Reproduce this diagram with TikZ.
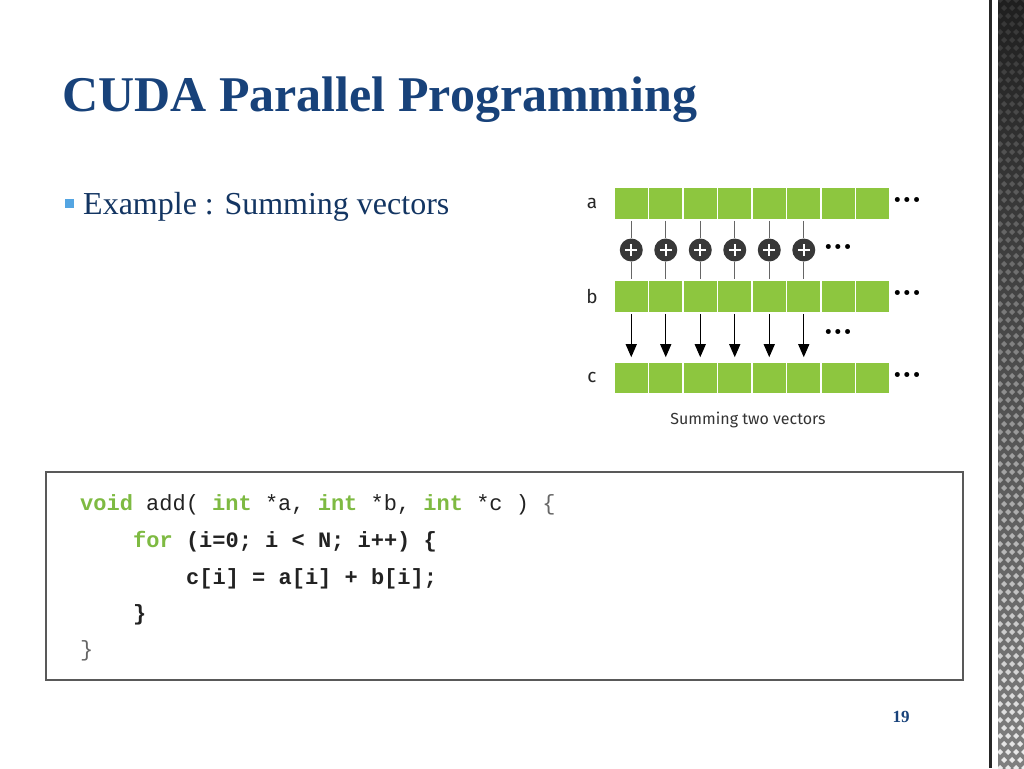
\documentclass[tikz,border=0pt]{standalone}
\usepackage{fontspec}
\setmainfont{Liberation Serif}
\setsansfont{Fira Sans}
\setmonofont{Liberation Mono}
\definecolor{titleblue}{RGB}{24, 66, 122}
\definecolor{bulletblue}{RGB}{84, 165, 226}
\definecolor{cudagreen}{RGB}{141, 198, 63}
\definecolor{keygreen}{RGB}{126, 186, 66}
\definecolor{codegray}{RGB}{34, 34, 34}
\usetikzlibrary{arrows.meta, positioning, calc}
\tikzset{
	cell/.style={rectangle, draw=white, line width=1.6pt, fill=cudagreen, minimum width=34.5pt, minimum height=33pt, inner sep=0pt},
	plusnode/.style={circle, fill=black!78, minimum size=23pt, inner sep=0pt,
		path picture={\draw[white, line width=2.4pt] ([xshift=-6pt]path picture bounding box.center) -- ([xshift=6pt]path picture bounding box.center);
			\draw[white, line width=2.4pt] ([yshift=-6pt]path picture bounding box.center) -- ([yshift=6pt]path picture bounding box.center);}},
	dots/.style={font=\sffamily\fontsize{22}{22}\selectfont, inner sep=0pt, text=black},
	rowlabel/.style={font=\sffamily\fontsize{19}{19}\selectfont, text=black!85, inner sep=0pt},
	link/.style={draw=black!60, line width=1pt},
	arrow/.style={-{Triangle[length=13pt, width=11pt]}, line width=1.2pt, draw=black, shorten >=4pt},
	codeline/.style={font=\ttfamily\fontsize{22}{26}\selectfont, text=codegray, anchor=base west, inner sep=0pt},
	codebox/.style={rectangle, draw=black!65, line width=1.1pt, minimum width=917pt, minimum height=208pt, inner sep=0pt},
}
\newcommand{\kw}[1]{\textcolor{keygreen}{\textbf{#1}}}
\newcommand{\etc}{•\kern2.5pt•\kern2.5pt•}

\begin{document}
\begin{tikzpicture}[x=1pt, y=-1pt]
	\useasboundingbox (0,0) rectangle (1024,768);
	% right-hand border strip
	\fill[black!85] (989,0) rectangle (992,768);
	\begin{scope}
		\clip (998,0) rectangle (1024,768);
		\shade[top color=black!88, bottom color=black!50] (998,0) rectangle (1024,768);
		\foreach \r in {0,...,96}{
			\foreach \c in {0,...,3}{
				\pgfmathsetmacro{\op}{0.10+0.75*(\r/96)^1.6}
				\pgfmathsetmacro{\px}{1000+\c*8+mod(\r,2)*4}
				\pgfmathsetmacro{\py}{\r*8}
				\fill[white, opacity=\op] (\px,\py-3) -- (\px+3,\py) -- (\px,\py+3) -- (\px-3,\py) -- cycle;
			}
		}
	\end{scope}

	% title and bullet
	\node[anchor=base west, inner sep=0pt, text=titleblue, font=\bfseries\fontsize{50}{56}\selectfont] (title) at (62,111) {CUDA Parallel Programming};
	\node[rectangle, fill=bulletblue, minimum size=9pt, inner sep=0pt] (bul) at (69,203) {};
	\node[anchor=base west, inner sep=0pt, text=titleblue!80!black, font=\fontsize{32}{36}\selectfont] (item) at (83,214) {Example : Summing vectors};

	% vectors a, b, c
	\foreach \i in {1,...,8}{
		\node[cell] (a\i) at (596.75+34.5*\i,203.5) {};
		\node[cell] (b\i) at (596.75+34.5*\i,296.5) {};
		\node[cell, minimum height=32pt] (c\i) at (596.75+34.5*\i,378) {};
	}
	\foreach \i in {1,...,6}{
		\node[plusnode] (p\i) at (596.75+34.5*\i,250) {};
		\draw[link] (a\i) -- (p\i);
		\draw[link] (p\i) -- (b\i);
		\draw[arrow] (b\i) -- (c\i);
	}
	\node[rowlabel] (la) at (592,203) {a};
	\node[rowlabel] (lb) at (592,296) {b};
	\node[rowlabel] (lc) at (592,377) {c};
	\node[dots] (da) at (907,203) {\etc};
	\node[dots] (dp) at (838,250) {\etc};
	\node[dots] (db) at (907,296) {\etc};
	\node[dots] (dr) at (838,335) {\etc};
	\node[dots] (dc) at (907,378) {\etc};
	\node[font=\sffamily\fontsize{16}{16}\selectfont, text=black!80, inner sep=0pt] (cap) at (748,420) {Summing two vectors};

	% code
	\node[codebox] (box) at (504.5,576) {};
	\node[codeline] (l1) at (80,510) {\kw{void} add( \kw{int} *a, \kw{int} *b, \kw{int} *c ) \textcolor{black!60}{\{}};
	\node[codeline, font=\ttfamily\bfseries\fontsize{22}{26}\selectfont] (l2) at (133,547) {\textcolor{keygreen}{for} (i=0; i < N; i++) \{};
	\node[codeline, font=\ttfamily\bfseries\fontsize{22}{26}\selectfont] (l3) at (186,584) {c[i] = a[i] + b[i];};
	\node[codeline, font=\ttfamily\bfseries\fontsize{22}{26}\selectfont] (l4) at (133,620) {\}};
	\node[codeline, text=black!60] (l5) at (80,656) {\}};

	% page number
	\node[text=titleblue, font=\bfseries\fontsize{17}{17}\selectfont, inner sep=0pt] (page) at (901,717) {19};
\end{tikzpicture}
\end{document}
